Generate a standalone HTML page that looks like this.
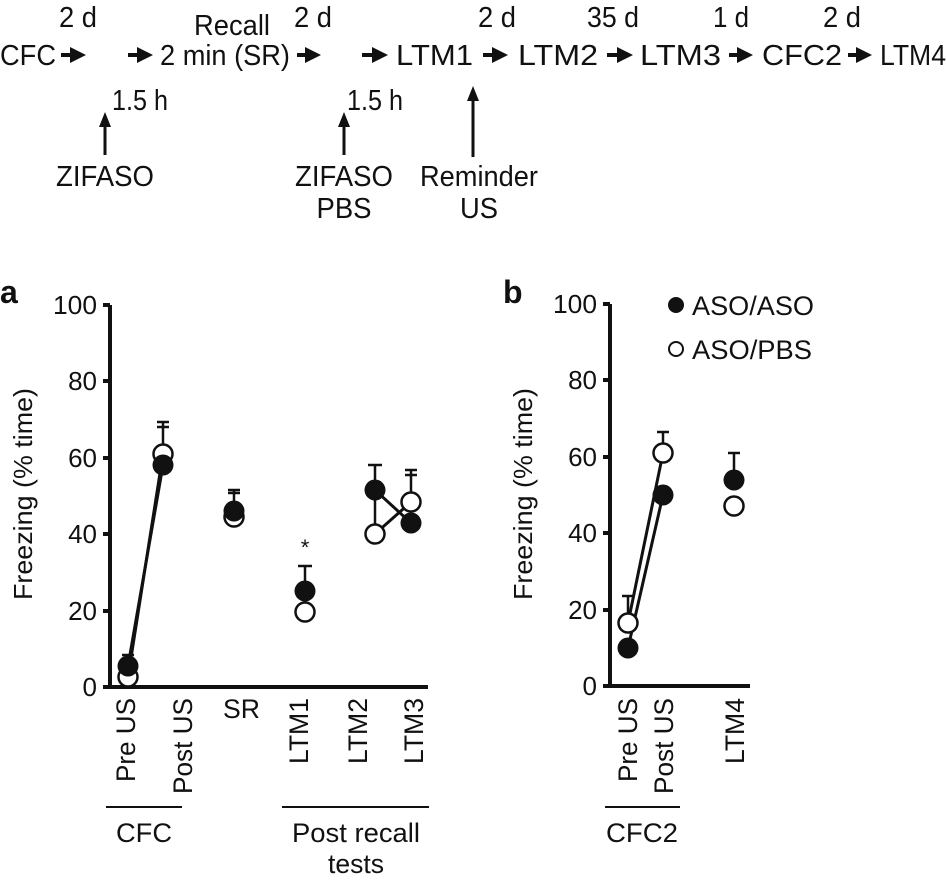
<!DOCTYPE html>
<html><head><meta charset="utf-8"><style>
html,body{margin:0;padding:0;background:#fff;}
svg text{font-family:"Liberation Sans",Arial,sans-serif;fill:#111;}
</style></head><body>
<svg width="946" height="881" viewBox="0 0 946 881" xmlns="http://www.w3.org/2000/svg">
<defs>
<marker id="ah" markerWidth="4" markerHeight="4" refX="2" refY="2" orient="auto" markerUnits="strokeWidth"><path d="M0,0 L4,2 L0,4 z" fill="#111"/></marker>
</defs>
<g font-size="29">
<text x="78" y="27" text-anchor="middle" textLength="38" lengthAdjust="spacingAndGlyphs">2 d</text>
<text x="232" y="35" text-anchor="middle" textLength="76" lengthAdjust="spacingAndGlyphs">Recall</text>
<text x="313" y="27" text-anchor="middle" textLength="38" lengthAdjust="spacingAndGlyphs">2 d</text>
<text x="497" y="27" text-anchor="middle" textLength="38" lengthAdjust="spacingAndGlyphs">2 d</text>
<text x="613" y="27" text-anchor="middle" textLength="52" lengthAdjust="spacingAndGlyphs">35 d</text>
<text x="731" y="27" text-anchor="middle" textLength="36" lengthAdjust="spacingAndGlyphs">1 d</text>
<text x="842" y="27" text-anchor="middle" textLength="38" lengthAdjust="spacingAndGlyphs">2 d</text>
<text x="0" y="65" textLength="56" lengthAdjust="spacingAndGlyphs">CFC</text>
<text x="160" y="65" textLength="130" lengthAdjust="spacingAndGlyphs">2 min (SR)</text>
<text x="396" y="65" textLength="77" lengthAdjust="spacingAndGlyphs">LTM1</text>
<text x="518" y="65" textLength="80" lengthAdjust="spacingAndGlyphs">LTM2</text>
<text x="640" y="65" textLength="81" lengthAdjust="spacingAndGlyphs">LTM3</text>
<text x="762" y="65" textLength="80" lengthAdjust="spacingAndGlyphs">CFC2</text>
<text x="880" y="65" textLength="66" lengthAdjust="spacingAndGlyphs">LTM4</text>
<text x="140" y="110" text-anchor="middle" textLength="56" lengthAdjust="spacingAndGlyphs">1.5 h</text>
<text x="375" y="110" text-anchor="middle" textLength="56" lengthAdjust="spacingAndGlyphs">1.5 h</text>
<text x="105" y="186" text-anchor="middle" textLength="98" lengthAdjust="spacingAndGlyphs">ZIFASO</text>
<text x="344" y="186" text-anchor="middle" textLength="98" lengthAdjust="spacingAndGlyphs">ZIFASO</text>
<text x="344" y="218" text-anchor="middle" textLength="55" lengthAdjust="spacingAndGlyphs">PBS</text>
<text x="479" y="186" text-anchor="middle" textLength="118" lengthAdjust="spacingAndGlyphs">Reminder</text>
<text x="479" y="218" text-anchor="middle" textLength="38" lengthAdjust="spacingAndGlyphs">US</text>
</g>
<g stroke="#111" stroke-width="4" marker-end="url(#ah)">
<line x1="61" y1="55" x2="78" y2="55"/>
<line x1="128" y1="55" x2="145" y2="55"/>
<line x1="297" y1="55" x2="313" y2="55"/>
<line x1="362" y1="55" x2="380" y2="55"/>
<line x1="483" y1="55" x2="500" y2="55"/>
<line x1="607" y1="55" x2="625" y2="55"/>
<line x1="729" y1="55" x2="745" y2="55"/>
<line x1="848" y1="55" x2="864" y2="55"/>
</g>
<g stroke="#111" stroke-width="3">
<line x1="105" y1="155" x2="105" y2="126"/>
<polygon points="105,112 99,127 111,127" fill="#111" stroke="none"/>
<line x1="344" y1="155" x2="344" y2="126"/>
<polygon points="344,112 338,127 350,127" fill="#111" stroke="none"/>
<line x1="473" y1="157" x2="473" y2="100"/>
<polygon points="473,86 467,101 479,101" fill="#111" stroke="none"/>
</g>

<!-- panel a -->
<text x="0" y="303" font-size="32" font-weight="bold">a</text>
<g stroke="#111" stroke-width="4" fill="none">
<path d="M110,305 V687 H428"/>
<path d="M103,305 H110 M103,381 H110 M103,458 H110 M103,534 H110 M103,611 H110 M103,687 H110"/>
</g>
<g font-size="26" text-anchor="end">
<text x="97" y="314" textLength="44" lengthAdjust="spacingAndGlyphs">100</text><text x="97" y="390">80</text><text x="97" y="467">60</text>
<text x="97" y="543">40</text><text x="97" y="620">20</text><text x="97" y="696">0</text>
</g>
<text transform="translate(32,494) rotate(-90)" font-size="26" text-anchor="middle" textLength="212" lengthAdjust="spacingAndGlyphs">Freezing (% time)</text>
<g stroke="#111" stroke-width="2.5">
<line x1="128" y1="666" x2="128" y2="655"/><line x1="122" y1="655" x2="134" y2="655"/>
<line x1="163" y1="465" x2="163" y2="422"/><line x1="157" y1="422" x2="169" y2="422"/><line x1="157" y1="427" x2="169" y2="427"/>
<line x1="234" y1="511" x2="234" y2="490"/><line x1="228" y1="490" x2="240" y2="490"/><line x1="228" y1="493" x2="240" y2="493"/>
<line x1="305" y1="591" x2="305" y2="566"/><line x1="298" y1="566" x2="312" y2="566"/>
<line x1="375" y1="534" x2="375" y2="465"/><line x1="368" y1="465" x2="382" y2="465"/>
<line x1="411" y1="501" x2="411" y2="470"/><line x1="405" y1="470" x2="417" y2="470"/><line x1="405" y1="475" x2="417" y2="475"/>
</g>
<g stroke="#111" stroke-width="3">
<line x1="128" y1="666" x2="163" y2="465"/>
<line x1="128" y1="677" x2="163" y2="454"/>
<line x1="375" y1="490" x2="411" y2="523"/>
<line x1="375" y1="534" x2="411" y2="502"/>
</g>
<g stroke="#111" stroke-width="2.5" fill="#fff">
<circle cx="128" cy="677" r="9.5"/><circle cx="163" cy="454" r="9.5"/><circle cx="234" cy="517" r="9.5"/>
<circle cx="305" cy="612" r="9.5"/><circle cx="375" cy="534" r="9.5"/><circle cx="411" cy="502" r="9.5"/>
</g>
<g fill="#111">
<circle cx="128" cy="666" r="10.5"/><circle cx="163" cy="465" r="10.5"/><circle cx="234" cy="511" r="10.5"/>
<circle cx="305" cy="591" r="10.5"/><circle cx="375" cy="490" r="10.5"/><circle cx="411" cy="523" r="10.5"/>
</g>
<text x="305" y="555" font-size="22" text-anchor="middle">*</text>
<g font-size="27">
<text transform="translate(135,782) rotate(-90)" textLength="84" lengthAdjust="spacingAndGlyphs">Pre US</text>
<text transform="translate(192,794) rotate(-90)" textLength="96" lengthAdjust="spacingAndGlyphs">Post US</text>
<text x="223" y="718" textLength="37" lengthAdjust="spacingAndGlyphs">SR</text>
<text transform="translate(308,764) rotate(-90)" textLength="66" lengthAdjust="spacingAndGlyphs">LTM1</text>
<text transform="translate(367,764) rotate(-90)" textLength="66" lengthAdjust="spacingAndGlyphs">LTM2</text>
<text transform="translate(423,764) rotate(-90)" textLength="66" lengthAdjust="spacingAndGlyphs">LTM3</text>
<text x="144" y="842" text-anchor="middle" textLength="56" lengthAdjust="spacingAndGlyphs">CFC</text>
<text x="356" y="842" text-anchor="middle" textLength="128" lengthAdjust="spacingAndGlyphs">Post recall</text>
<text x="356" y="873" text-anchor="middle" textLength="56" lengthAdjust="spacingAndGlyphs">tests</text>
</g>
<g stroke="#111" stroke-width="2">
<line x1="106" y1="807" x2="182" y2="807"/>
<line x1="282" y1="807" x2="429" y2="807"/>
<line x1="605" y1="807" x2="680" y2="807"/>
</g>

<!-- panel b -->
<text x="503" y="303" font-size="32" font-weight="bold">b</text>
<g stroke="#111" stroke-width="4" fill="none">
<path d="M610,304 V686 H750"/>
<path d="M603,304 H610 M603,380 H610 M603,457 H610 M603,533 H610 M603,610 H610 M603,686 H610"/>
</g>
<g font-size="26" text-anchor="end">
<text x="597" y="313" textLength="44" lengthAdjust="spacingAndGlyphs">100</text><text x="597" y="389">80</text><text x="597" y="466">60</text>
<text x="597" y="542">40</text><text x="597" y="619">20</text><text x="597" y="695">0</text>
</g>
<text transform="translate(532,494) rotate(-90)" font-size="26" text-anchor="middle" textLength="212" lengthAdjust="spacingAndGlyphs">Freezing (% time)</text>
<g stroke="#111" stroke-width="2.5">
<line x1="628" y1="623" x2="628" y2="596"/><line x1="622" y1="596" x2="634" y2="596"/>
<line x1="663" y1="453" x2="663" y2="432"/><line x1="657" y1="432" x2="669" y2="432"/>
<line x1="734" y1="480" x2="734" y2="453"/><line x1="728" y1="453" x2="740" y2="453"/>
</g>
<g stroke="#111" stroke-width="3">
<line x1="628" y1="648" x2="663" y2="495"/>
<line x1="628" y1="623" x2="663" y2="453"/>
</g>
<g stroke="#111" stroke-width="2.5" fill="#fff">
<circle cx="628" cy="623" r="9.5"/><circle cx="663" cy="453" r="9.5"/><circle cx="734" cy="506" r="9.5"/>
</g>
<g fill="#111">
<circle cx="628" cy="648" r="10.5"/><circle cx="663" cy="495" r="10.5"/><circle cx="734" cy="480" r="10.5"/>
</g>
<circle cx="676" cy="305" r="8" fill="#111"/>
<circle cx="676" cy="349" r="7" fill="#fff" stroke="#111" stroke-width="2"/>
<g font-size="27">
<text x="692" y="315" textLength="122" lengthAdjust="spacingAndGlyphs">ASO/ASO</text>
<text x="692" y="359" textLength="120" lengthAdjust="spacingAndGlyphs">ASO/PBS</text>
<text transform="translate(637,782) rotate(-90)" textLength="84" lengthAdjust="spacingAndGlyphs">Pre US</text>
<text transform="translate(673,794) rotate(-90)" textLength="96" lengthAdjust="spacingAndGlyphs">Post US</text>
<text transform="translate(744,764) rotate(-90)" textLength="66" lengthAdjust="spacingAndGlyphs">LTM4</text>
<text x="642" y="842" text-anchor="middle" textLength="72" lengthAdjust="spacingAndGlyphs">CFC2</text>
</g>
</svg>
</body></html>
